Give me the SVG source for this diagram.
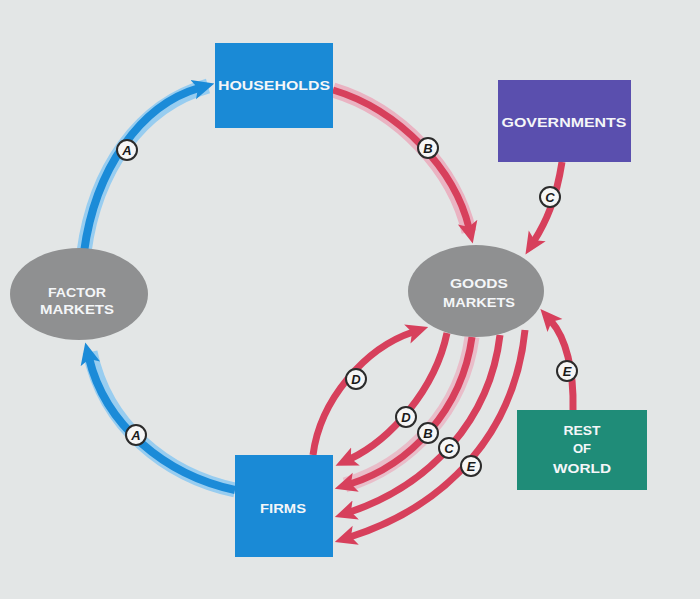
<svg xmlns="http://www.w3.org/2000/svg" width="700" height="599" viewBox="0 0 700 599">
<style>
.bg{fill:#e3e6e6}
.box{stroke:none}
.nt{font-family:"Liberation Sans",Arial,sans-serif;font-weight:bold;fill:#f4f6f8;text-anchor:middle;font-size:13px}
.blue{fill:none;stroke:#1b8bd8;stroke-width:8}
.bhalo{fill:none;stroke:#98cdf0;stroke-width:15}
.red{fill:none;stroke:#d7405c;stroke-width:7}
.rhalo{fill:none;stroke:#eab3c2;stroke-width:15}
.lc{fill:#f6f6f6;stroke:#2b2b2b;stroke-width:2}
.lt{font-family:"Liberation Sans",Arial,sans-serif;font-weight:bold;font-style:italic;font-size:13px;fill:#1a1a1a;text-anchor:middle}
</style>
<defs>
<marker id="ab" markerUnits="userSpaceOnUse" markerWidth="22" markerHeight="22" viewBox="0 0 22 22" refX="6" refY="11" orient="auto">
<path d="M0,1 L22,11 L0,21 L5,11 z" fill="#1b8bd8"/>
</marker>
<marker id="ar" markerUnits="userSpaceOnUse" markerWidth="22" markerHeight="22" viewBox="0 0 22 22" refX="6" refY="11" orient="auto">
<path d="M0,1 L22,11 L0,21 L5,11 z" fill="#d7405c"/>
</marker>
</defs>
<rect class="bg" x="0" y="0" width="700" height="599"/>

<g id="connectors">
<path class="bhalo" d="M84 252 C95 170 140 105 208 86"/>
<path class="bhalo" d="M235 490 C165 475 105 425 90 352"/>
<path class="rhalo" d="M333 90 C400 110 455 170 469 232"/>
<path class="rhalo" d="M472 337 C462 410 410 465 345 485" opacity="0.8"/>
<path class="blue" d="M84 252 C95 170 140 105 199 88" marker-end="url(#ab)"/>
<path class="blue" d="M235 490 C165 475 105 425 89 358" marker-end="url(#ab)"/>
<path class="red" d="M333 90 C400 110 455 170 469 228" marker-end="url(#ar)"/>
<path class="red" d="M562 162 C556 200 546 222 534 241" marker-end="url(#ar)"/>
<path class="red" d="M573 410 C574 370 566 338 551 321" marker-end="url(#ar)"/>
<path class="red" d="M313 455 C320 400 365 348 413 332" marker-end="url(#ar)"/>
<path class="red" d="M447 333 C435 390 390 440 350 459" marker-end="url(#ar)"/>
<path class="red" d="M472 337 C462 410 410 465 350 484" marker-end="url(#ar)"/>
<path class="red" d="M500 335 C490 420 430 485 350 512" marker-end="url(#ar)"/>
<path class="red" d="M525 330 C515 430 450 505 350 537" marker-end="url(#ar)"/>
</g>

<g id="labels">
<circle class="lc" cx="127" cy="150" r="10"/><text class="lt" x="127" y="154.5">A</text>
<circle class="lc" cx="136" cy="435" r="10"/><text class="lt" x="136" y="439.5">A</text>
<circle class="lc" cx="428" cy="148" r="10"/><text class="lt" x="428" y="152.5">B</text>
<circle class="lc" cx="550" cy="197" r="10"/><text class="lt" x="550" y="201.5">C</text>
<circle class="lc" cx="567" cy="371" r="10"/><text class="lt" x="567" y="375.5">E</text>
<circle class="lc" cx="356" cy="379" r="10"/><text class="lt" x="356" y="383.5">D</text>
<circle class="lc" cx="406" cy="417" r="10"/><text class="lt" x="406" y="421.5">D</text>
<circle class="lc" cx="428" cy="433" r="10"/><text class="lt" x="428" y="437.5">B</text>
<circle class="lc" cx="449" cy="448" r="10"/><text class="lt" x="449" y="452.5">C</text>
<circle class="lc" cx="471" cy="466" r="10"/><text class="lt" x="471" y="470.5">E</text>
</g>

<g id="households">
<rect class="box" x="215" y="43" width="118" height="85" fill="#1a8ad6"/>
<text class="nt" x="274" y="90" font-size="14" textLength="112" lengthAdjust="spacingAndGlyphs">HOUSEHOLDS</text>
</g>
<g id="governments">
<rect class="box" x="498" y="80" width="133" height="82" fill="#5a4fae"/>
<text class="nt" x="564" y="127" font-size="14" textLength="125" lengthAdjust="spacingAndGlyphs">GOVERNMENTS</text>
</g>
<g id="factor-markets">
<ellipse cx="79" cy="294" rx="69" ry="46" fill="#8f9091"/>
<text class="nt" x="77" y="297" font-size="13.5" textLength="58" lengthAdjust="spacingAndGlyphs">FACTOR</text>
<text class="nt" x="77" y="314" font-size="13.5" textLength="74" lengthAdjust="spacingAndGlyphs">MARKETS</text>
</g>
<g id="goods-markets">
<ellipse cx="476" cy="291" rx="68" ry="46" fill="#8f9091"/>
<text class="nt" x="479" y="288" font-size="13.5" textLength="58" lengthAdjust="spacingAndGlyphs">GOODS</text>
<text class="nt" x="479" y="307" font-size="13.5" textLength="72" lengthAdjust="spacingAndGlyphs">MARKETS</text>
</g>
<g id="firms">
<rect class="box" x="235" y="455" width="98" height="102" fill="#1a8ad6"/>
<text class="nt" x="283" y="513" font-size="13" textLength="46" lengthAdjust="spacingAndGlyphs">FIRMS</text>
</g>
<g id="rest-of-world">
<rect class="box" x="517" y="410" width="130" height="80" fill="#1f8c78"/>
<text class="nt" x="582" y="435" font-size="13" textLength="37" lengthAdjust="spacingAndGlyphs">REST</text>
<text class="nt" x="582" y="453" font-size="13">OF</text>
<text class="nt" x="582" y="473" font-size="13" textLength="58" lengthAdjust="spacingAndGlyphs">WORLD</text>
</g>
</svg>
